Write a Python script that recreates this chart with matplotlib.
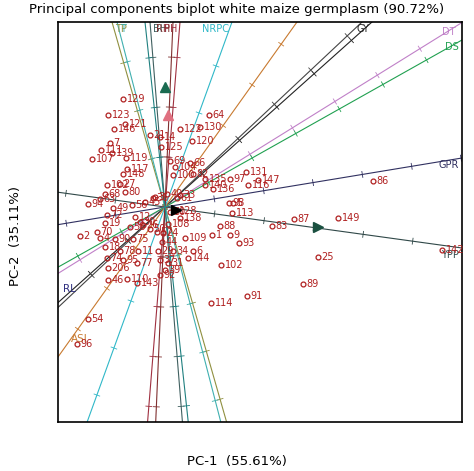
import matplotlib
matplotlib.use("Agg")
import matplotlib.pyplot as plt
import numpy as np

# genotype scores (PC1, PC2)
labels = ["129","123","121","146","64","130","122","120","7","111","139","107","119","125","69","66",
          "104","117","148","100","82","131","97","147","116","86","135","140","136","102","27","68",
          "94","49","72","98","5","113","87","149","128","138","108","88","83","2","70","4","90","75",
          "24","109","1","9","93","142","25","18","78","11","29","34","6","144","102","74","95","77",
          "37","31","206","39","92","46","110","143","89","91","114","54","96","14","21","30","58","3",
          "45","60","80","12","33","50","57","63","26","36","44","19","56","61","40"]
pc1 = [-4.2,-5.7,-4.0,-5.1,4.4,3.5,1.5,2.7,-5.5,-6.4,-5.3,-7.3,-3.9,-0.4,0.5,2.5,
       1.0,-3.8,-4.2,0.8,2.8,8.1,6.5,9.3,8.3,20.8,4.0,4.0,4.8,-5.8,-4.5,-6.0,
       -7.7,-5.2,-5.8,6.4,6.8,6.7,12.9,17.3,1.0,1.5,0.3,5.5,10.7,-8.5,-6.8,-6.5,-5.0,-3.2,
       -0.2,2.0,4.7,6.5,7.4,27.7,15.3,-6.0,-4.5,-2.7,-0.7,0.8,2.8,2.3,5.6,-5.8,-4.2,-2.8,
       -0.5,0.3,-5.7,0.0,-0.5,-5.7,-3.8,-2.8,13.8,8.2,4.6,-7.7,-8.8,-0.5,-1.5,-2.5,-3.5,-1.0,
       -2.0,0.5,-4.0,-3.0,1.5,-1.5,-0.8,-6.5,-2.2,-1.2,-0.3,-6.0,-3.3,1.2,0.2]
pc2 = [10.8,9.2,8.3,7.8,9.2,8.0,7.8,6.6,6.4,5.7,5.4,4.8,4.9,6.0,4.6,4.4,
       4.0,3.8,3.3,3.2,3.3,3.5,2.8,2.7,2.2,2.6,2.8,2.2,1.8,2.2,2.3,1.3,
       0.3,-0.1,-0.8,0.4,0.4,-0.6,-1.2,-1.1,-0.4,-1.1,-1.7,-1.9,-1.9,-2.9,-2.5,-3.1,-3.2,-3.2,
       -2.6,-3.1,-2.8,-2.8,-3.6,-4.3,-5.0,-4.0,-4.4,-4.4,-4.4,-4.4,-4.4,-5.1,-5.8,-5.1,-5.3,-5.6,
       -5.3,-5.6,-6.1,-6.3,-6.8,-7.3,-7.2,-7.6,-7.7,-8.9,-9.6,-11.2,-13.7,7.0,7.2,-1.5,-2.0,1.0,
       0.5,-0.5,1.5,-1.0,1.2,-2.2,-2.5,0.8,-1.8,0.9,-3.5,-1.6,0.2,0.9,1.3]

# trait axes: name, direction (PC1, PC2), colour; label at positive (+1) or negative (-1) end
traits = ["GY","GY2","DT","DS","GPR","YPP","ASI","NRPC","TP","BH","PH","RH","TT","CY"]
vec_x = [20.7,19.7,29.3,29.7,29.7,29.7,13.2,6.7,-5.3,-1.5,1.5,0.8,-4.8,-2.0]
vec_y = [18.5,18.5,18.2,16.7,4.9,-4.1,18.5,18.5,18.5,18.5,18.5,18.5,18.5,18.5]
colors = ["#222222","#444444","#c080c8","#20a050","#303060","#304848","#c87a30","#30b8c8",
          "#909040","#406060","#a03040","#803030","#40b0b0","#208080"]
label_text = ["GY","","DT","DS","GPR","YPP","ASI","NRPC","TP","BH","PH","RH","T",""]
label_end = [1,1,1,1,1,1,-1,1,1,1,1,1,1,1]

fig = plt.figure(figsize=(4.74, 4.71), dpi=100)
ax = fig.add_axes([58/474, 1-422/471, 404/474, 400/471])
xl, yl = (-10.7, 29.7), (-21.5, 18.5)
ax.set_xlim(*xl); ax.set_ylim(*yl)

for name, vx, vy, c, lt, le in zip(traits, vec_x, vec_y, colors, label_text, label_end):
    d = np.array([vx, vy]) / np.hypot(vx, vy)
    t = np.linspace(-60, 60, 2)
    ax.plot(t * d[0], t * d[1], color=c, lw=0.8, zorder=1)
    for s in np.arange(-40, 41, 5):
        p = s * d
        n = np.array([-d[1], d[0]]) * 0.3
        ax.plot([p[0]-n[0], p[0]+n[0]], [p[1]-n[1], p[1]+n[1]], color=c, lw=0.6, zorder=1)
    if lt and le == 1:
        ax.text(vx - 0.3*np.sign(vx), vy - 0.2, lt, color=c, fontsize=7,
                ha="right" if vx > 0 else "left", va="top", clip_on=False)
    elif lt:
        # place label near where the negative end leaves the frame
        s = min(abs(xl[0] / d[0]), abs(yl[0] / d[1])) * 0.88
        ax.text(-s*d[0], -s*d[1], lt, color=c, fontsize=7.5, ha="left", va="center")

ax.text(-10.2, -8.2, "RL", color="#303080", fontsize=7.5, ha="left", va="center")

ax.plot(pc1, pc2, "o", mfc="none", mec="#b02020", ms=3.5, mew=0.9, zorder=3)
for x, y, l in zip(pc1, pc2, labels):
    ax.text(x + 0.35, y, l, color="#b02020", fontsize=7, va="center", zorder=3)

ax.plot([0], [12.0], marker="^", color="#1a6a50", ms=7, zorder=4)
ax.plot([0.3], [9.2], marker="^", color="#e07080", ms=7, zorder=4)
ax.plot([15.3], [-2.0], marker=">", color="#1a5040", ms=7, zorder=4)
ax.plot([1.1], [-0.3], marker=">", color="black", ms=7, zorder=4)

ax.set_xticks([]); ax.set_yticks([])
for sp in ax.spines.values():
    sp.set_linewidth(1.2)
fig.text(0.5, 1-10/471, "Principal components biplot white maize germplasm (90.72%)",
         ha="center", va="center", fontsize=9.5)
fig.text(0.5, 1-462/471, "PC-1  (55.61%)", ha="center", va="center", fontsize=9.5)
fig.text(15/474, 0.5, "PC-2  (35.11%)", ha="center", va="center", fontsize=9.5, rotation=90)
fig.savefig("out.png", dpi=100)
